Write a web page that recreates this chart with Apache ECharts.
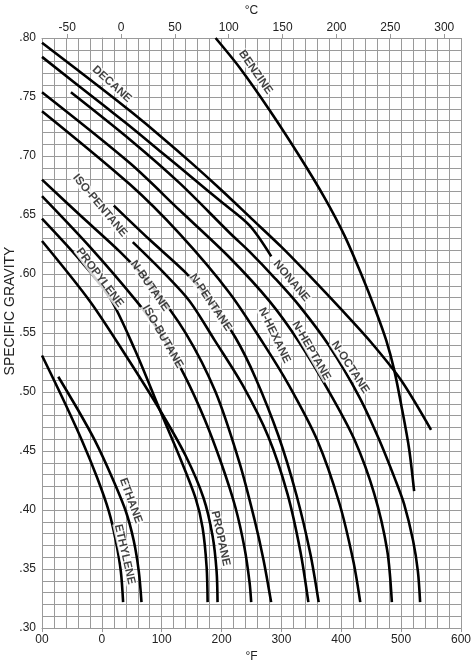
<!DOCTYPE html>
<html><head><meta charset="utf-8">
<script src="https://cdn.jsdelivr.net/npm/echarts@6/dist/echarts.min.js"></script>
<style>html,body{margin:0;padding:0;background:#fff}#c{width:474px;height:668px}</style>
</head><body><div id="c"></div>
<script>
// Tick labels
const fTickLabels = ['00','0','100','200','300','400','500','600']; // -100 .. 600 °F
const cTickValues = [-50,0,50,100,150,200,250,300];
const cTickLabels = ['-50','0','50','100','150','200','250','300'];
const sgTickLabels = ['.30','.35','.40','.45','.50','.55','.60','.65','.70','.75','.80'];

// Curves: [°F, specific gravity]
const decane = [[-100,.796],[0,.757],[50,.737],[100,.716],[150,.694],[200,.671],[250,.647],[300,.623],[350,.597],[400,.570],[450,.542],[500,.510],[550,.468]];
const nonane = [[-100,.784],[0,.744],[50,.724],[100,.703],[150,.682],[200,.661],[247,.641],[283,.615]];
const octane = [[-51.7,.754],[46.7,.714],[130,.677],[213.3,.635],[246.7,.619],[290,.596],[330,.573],[380,.539],[430,.496],[463,.460],[490,.426],[505,.405],[520,.374],[528,.348],[531.7,.322]];
const heptane = [[-100,.754],[46.7,.694],[130,.654],[213.3,.614],[280,.577],[330,.542],[380,.500],[421.7,.460],[455,.414],[476.7,.366],[484.5,.322]];
const hexane = [[-100,.738],[46.7,.676],[130,.634],[213.3,.584],[270,.541],[313.3,.505],[360,.459],[396.7,.406],[420,.357],[431.7,.322]];
const nPentane = [[20,.658],[80,.629],[138.3,.602],[181.7,.577],[223.3,.546],[256.7,.512],[295,.463],[325,.413],[348.3,.363],[362.2,.322]];
const isoPentane = [[51.7,.627],[101.7,.602],[146.7,.577],[188.3,.544],[235,.506],[278.3,.462],[310,.414],[331.7,.365],[345,.322]];
const nButane = [[-100,.680],[-36.7,.650],[30,.619],[80,.592],[140,.550],[190,.500],[230,.440],[255,.392],[270,.358],[282.8,.322]];
const isoButane = [[-100,.666],[-20,.623],[57.8,.577],[101.7,.547],[138.3,.514],[171.7,.477],[200,.439],[223.3,.402],[238.3,.368],[246.7,.339],[249.5,.322]];
const propylene = [[-100,.647],[-36.7,.612],[13.3,.580],[55,.536],[96.7,.485],[130,.445],[156.7,.410],[168.3,.385],[175,.352],[176.7,.322]];
const propane = [[-100,.628],[-20,.577],[40,.531],[96.7,.485],[140,.446],[170,.410],[185,.378],[191.7,.348],[193.3,.322]];
const ethylene = [[-100,.531],[-66.7,.496],[-33.3,.459],[-8.3,.428],[11.7,.399],[23.3,.374],[31.7,.348],[35.5,.322]];
const ethane = [[-72.8,.513],[-40,.485],[-11.7,.459],[16.7,.428],[40,.399],[53.3,.374],[61.7,.348],[66.2,.322]];
const benzine = [[190,.800],[230,.775],[280,.739],[330,.700],[371.7,.665],[405,.633],[433.3,.600],[456.7,.570],[475,.544],[488.3,.519],[501.7,.485],[513.3,.452],[521.7,.416]];

const seriesNames = ['Decane','Nonane','N-Octane','N-Heptane','N-Hexane','N-Pentane','Iso-Pentane','N-Butane','Iso-Butane','Propylene','Propane','Ethylene','Ethane','Benzine'];
const seriesData = [decane,nonane,octane,heptane,hexane,nPentane,isoPentane,nButane,isoButane,propylene,propane,ethylene,ethane,benzine];

// Curve labels (anchor in data units) and their angles
const labelNames = ['DECANE','NONANE','N-OCTANE','N-HEPTANE','N-HEXANE','N-PENTANE','ISO-PENTANE','N-BUTANE','ISO-BUTANE','PROPYLENE','PROPANE','ETHANE','ETHYLENE','BENZINE'];
const labelAnchors = [[16.7,.761],[316.7,.594],[415,.521],[350,.535],[288.3,.548],[181.7,.576],[-3.3,.658],[80,.590],[101.7,.547],[-3.3,.597],[198.3,.376],[48.3,.408],[38.3,.3625],[256.7,.771]];
const labelAngles = [-42,-50,-57,-60,-64,-56,-50,-55,-60,-53,-78,-70,-77,-55];

const FONT = '"Liberation Sans", Arial, Helvetica, sans-serif';
const GRID = '#9a9a9a';

const chart = echarts.init(document.getElementById('c'));
const lineSeries = seriesNames.map((n,i)=>({
  type:'line', name:n, data:seriesData[i], xAxisIndex:0, yAxisIndex:0,
  showSymbol:false, symbol:'none', smooth:0.3,
  lineStyle:{color:'#000', width:2.6}, silent:true, z:3
}));
const labelSeries = {
  type:'scatter', xAxisIndex:0, yAxisIndex:0, symbolSize:0, z:5, silent:true,
  data: labelNames.map((n,i)=>({name:n, value:labelAnchors[i], label:{rotate:labelAngles[i]}})),
  label:{show:true, position:'inside', formatter:p=>p.name, fontFamily:FONT, fontSize:11.5, fontWeight:'bold',
         color:'#111', backgroundColor:'#fff', padding:[0,1], lineHeight:11}
};
chart.setOption({
  animation:false,
  backgroundColor:'#fff',
  grid:{left:42, right:12, top:32, bottom:34},
  xAxis:[{
    type:'value', position:'bottom', min:-100, max:600, interval:100,
    axisLine:{show:true, lineStyle:{color:GRID}},
    axisTick:{show:true, length:4, lineStyle:{color:GRID}},
    axisLabel:{margin:6, fontSize:12, fontFamily:FONT, color:'#222', showMinLabel:true, showMaxLabel:true,
      formatter:v=>fTickLabels[Math.round((v+100)/100)]},
    splitLine:{show:true, lineStyle:{color:GRID, width:1}},
    minorTick:{show:true, splitNumber:5, length:0},
    minorSplitLine:{show:true, lineStyle:{color:GRID, width:1}},
    name:'°F', nameLocation:'middle', nameGap:18, nameTextStyle:{fontSize:12, fontFamily:FONT, color:'#222'}
  },{
    type:'value', position:'top', min:(-100-32)/1.8, max:(600-32)/1.8,
    axisLine:{show:true, lineStyle:{color:GRID}},
    axisTick:{show:true, length:4, customValues:cTickValues, lineStyle:{color:GRID}},
    axisLabel:{margin:4, fontSize:12, fontFamily:FONT, color:'#222', customValues:cTickValues,
      formatter:v=>{const k=cTickValues.indexOf(Math.round(v)); return k>=0?cTickLabels[k]:'';}},
    splitLine:{show:false},
    name:'°C', nameLocation:'middle', nameGap:21, nameTextStyle:{fontSize:12, fontFamily:FONT, color:'#222'}
  }],
  yAxis:[{
    type:'value', min:0.3, max:0.8, interval:0.05,
    axisLine:{show:true, lineStyle:{color:GRID}},
    axisTick:{show:true, length:4, lineStyle:{color:GRID}},
    axisLabel:{margin:6, fontSize:12, fontFamily:FONT, color:'#222', showMinLabel:true, showMaxLabel:true,
      formatter:v=>sgTickLabels[Math.round((v-0.3)/0.05)]},
    splitLine:{show:true, lineStyle:{color:GRID, width:1}},
    minorTick:{show:true, splitNumber:5, length:0},
    minorSplitLine:{show:true, lineStyle:{color:GRID, width:1}}
  }],
  graphic:[{type:'text', x:10, y:311, rotation:Math.PI/2,
    style:{text:'SPECIFIC GRAVITY', font:'14px ' + FONT, fill:'#222', align:'center', verticalAlign:'middle'}}],
  series: lineSeries.concat([labelSeries])
});
</script></body></html>
